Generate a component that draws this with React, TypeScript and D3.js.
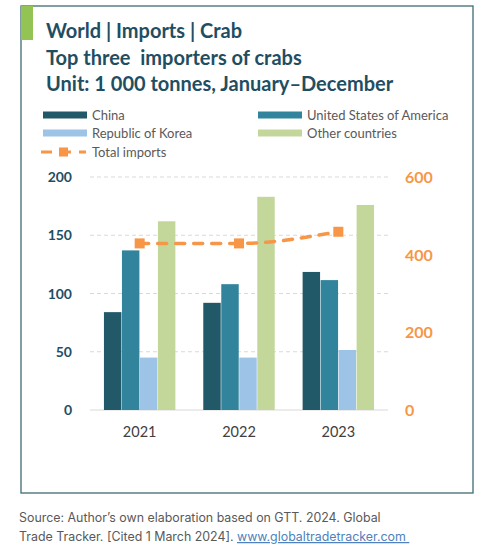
import React, { useEffect, useRef } from "react";
import * as d3 from "d3";

const years = ["2021", "2022", "2023"];
const china = [84, 92, 118.5];
const usa = [137, 108, 111.5];
const korea = [45, 45, 51.5];
const others = [162, 183, 176];
const totals = [429, 429, 459];
const leftTicks = [0, 50, 100, 150, 200];
const rightTicks = [0, 200, 400, 600];

const seriesNames = ["China", "United States of America", "Republic of Korea", "Other countries"];
const seriesColors = ["#215968", "#31849b", "#9dc3e6", "#c4d79b"];

export default function App() {
  const ref = useRef<SVGSVGElement | null>(null);

  useEffect(() => {
    if (!ref.current) return;
    const svg = d3.select(ref.current);
    svg.selectAll("*").remove();

    const series = [china, usa, korea, others];

    // frame
    svg.append("rect").attr("x", 21).attr("y", 6).attr("width", 452).attr("height", 487)
      .attr("fill", "#fff").attr("stroke", "#3e6b75").attr("stroke-width", 1.3);
    svg.append("rect").attr("x", 21).attr("y", 6).attr("width", 12).attr("height", 34).attr("fill", "#92c353");

    // titles
    const titles = ["World | Imports | Crab", "Top three  importers of crabs", "Unit: 1 000 tonnes, January\u2013December"];
    svg.append("g").selectAll("text").data(titles).join("text")
      .attr("x", 46).attr("y", (d, i) => 38 + i * 26.5)
      .attr("font-family", "Lato, sans-serif").attr("font-weight", "bold").attr("font-size", 20)
      .attr("fill", "#1f4e63").style("white-space", "pre").text((d) => d);

    // legend
    const legendPos = [[43, 115], [258, 115], [43, 133], [258, 133]];
    const lg = svg.append("g").attr("font-family", "Lato, sans-serif").attr("font-size", 13).attr("fill", "#595959");
    seriesNames.forEach((name, i) => {
      const [lx, ly] = legendPos[i];
      lg.append("rect").attr("x", lx).attr("y", ly - 3.5).attr("width", 44).attr("height", 7).attr("fill", seriesColors[i]);
      lg.append("text").attr("x", lx + 49).attr("y", ly + 4.5).text(name);
    });
    lg.append("line").attr("x1", 41).attr("x2", 86).attr("y1", 152).attr("y2", 152)
      .attr("stroke", "#f79646").attr("stroke-width", 3).attr("stroke-dasharray", "11,8");
    lg.append("rect").attr("x", 59).attr("y", 147.5).attr("width", 9).attr("height", 9).attr("fill", "#f79646");
    lg.append("text").attr("x", 92).attr("y", 156.5).text("Total imports");

    // plot scales
    const x = d3.scaleBand().domain(years).range([90, 388]).paddingInner(0.27).paddingOuter(0.135);
    const xs = d3.scaleBand().domain(d3.range(4).map(String)).range([0, x.bandwidth()]).padding(0.03);
    const y = d3.scaleLinear().domain([0, 200]).range([410, 177]);
    const y2 = d3.scaleLinear().domain([0, 600]).range([410, 177]);

    // grid
    svg.append("g").selectAll("line").data(leftTicks.filter((t) => t > 0)).join("line")
      .attr("x1", 90).attr("x2", 388).attr("y1", (d) => y(d)).attr("y2", (d) => y(d))
      .attr("stroke", "#d9d9d9").attr("stroke-width", 1).attr("stroke-dasharray", "4,3");
    svg.append("line").attr("x1", 90).attr("x2", 388).attr("y1", y(0)).attr("y2", y(0))
      .attr("stroke", "#d9d9d9").attr("stroke-width", 1.2);

    // bars
    series.forEach((vals, si) => {
      svg.append("g").selectAll("rect").data(vals).join("rect")
        .attr("x", (d, i) => (x(years[i]) as number) + (xs(String(si)) as number))
        .attr("y", (d) => y(d))
        .attr("width", xs.bandwidth())
        .attr("height", (d) => y(0) - y(d))
        .attr("fill", seriesColors[si]);
    });

    // total line
    const line = d3.line<number>()
      .x((d, i) => (x(years[i]) as number) + x.bandwidth() / 2)
      .y((d) => y2(d))
      .curve(d3.curveMonotoneX);
    svg.append("path").datum(totals).attr("d", line).attr("fill", "none")
      .attr("stroke", "#f79646").attr("stroke-width", 3.5).attr("stroke-linecap", "round")
      .attr("stroke-dasharray", "9,9");
    svg.append("g").selectAll("rect").data(totals).join("rect")
      .attr("x", (d, i) => (x(years[i]) as number) + x.bandwidth() / 2 - 5)
      .attr("y", (d) => y2(d) - 5)
      .attr("width", 10).attr("height", 10).attr("fill", "#f79646");

    // axes labels
    svg.append("g").selectAll("text").data(leftTicks).join("text")
      .attr("x", 72).attr("y", (d) => y(d) + 5).attr("text-anchor", "end")
      .attr("font-family", "Lato, sans-serif").attr("font-weight", "bold").attr("font-size", 14)
      .attr("fill", "#1f4e63").text((d) => d);
    svg.append("g").selectAll("text").data(rightTicks).join("text")
      .attr("x", 405).attr("y", (d) => y2(d) + 6).attr("text-anchor", "start")
      .attr("font-family", "Lato, sans-serif").attr("font-weight", "bold").attr("font-size", 16)
      .attr("fill", "#f79646").text((d) => d);
    svg.append("g").selectAll("text").data(years).join("text")
      .attr("x", (d) => (x(d) as number) + x.bandwidth() / 2).attr("y", 437).attr("text-anchor", "middle")
      .attr("font-family", "Lato, sans-serif").attr("font-size", 14.5)
      .attr("fill", "#404040").text((d) => d);

    // source
    const src = svg.append("g").attr("font-family", "Inter, sans-serif").attr("font-size", 12.4).attr("fill", "#595959");
    src.append("text").attr("x", 19).attr("y", 522).text("Source: Author\u2019s own elaboration based on GTT. 2024. Global");
    const t2 = src.append("text").attr("x", 19).attr("y", 541);
    t2.append("tspan").text("Trade Tracker. [Cited 1 March 2024]. ");
    t2.append("tspan").attr("fill", "#4f81bd").attr("text-decoration", "underline").style("white-space", "pre").text("www.globaltradetracker.com ");
  }, []);

  return (
    <svg ref={ref} width={494} height={549} style={{ position: "absolute", left: 0, top: 0 }} />
  );
}
